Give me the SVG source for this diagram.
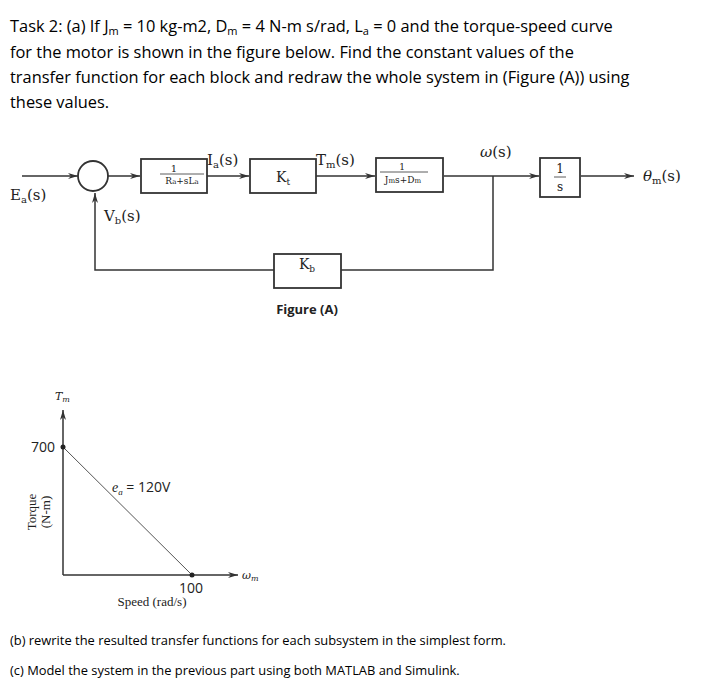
<svg xmlns="http://www.w3.org/2000/svg" width="705" height="695" viewBox="0 0 705 695">
<style>
.t{font-family:"Open Sans","DejaVu Sans",sans-serif;font-size:16.4px;fill:#000}
.m{font-family:"DejaVu Serif","Liberation Serif",serif;fill:#222}
.b{fill:none;stroke:#333;stroke-width:1.8}
.l{fill:none;stroke:#333;stroke-width:1.5}
</style>
<defs><marker id="a" markerWidth="10" markerHeight="6" refX="10" refY="3" orient="auto" markerUnits="userSpaceOnUse"><path d="M0,0 L10,3 L0,6 L3,3z" fill="#333"/></marker></defs>
<rect width="705" height="695" fill="#fff"/>
<text class="t" x="10" y="32">Task 2: (a) If J<tspan font-size="11" dy="3">m</tspan><tspan dy="-3"> = 10 kg-m2, D</tspan><tspan font-size="11" dy="3">m</tspan><tspan dy="-3"> = 4 N-m s/rad, L</tspan><tspan font-size="11" dy="3">a</tspan><tspan dy="-3"> = 0 and the torque-speed curve</tspan></text>
<text class="t" x="10" y="58">for the motor is shown in the figure below. Find the constant values of the</text>
<text class="t" x="10" y="83">transfer function for each block and redraw the whole system in (Figure (A)) using</text>
<text class="t" x="10" y="108">these values.</text>
<g id="connectors">
<line class="l" x1="22" y1="176" x2="78" y2="176" marker-end="url(#a)"/>
<line class="l" x1="108" y1="176" x2="140" y2="176" marker-end="url(#a)"/>
<line class="l" x1="207" y1="176" x2="249" y2="176" marker-end="url(#a)"/>
<line class="l" x1="316" y1="176" x2="375" y2="176" marker-end="url(#a)"/>
<line class="l" x1="444" y1="176" x2="539" y2="176" marker-end="url(#a)"/>
<line class="l" x1="581" y1="176" x2="634" y2="176" marker-end="url(#a)"/>
<polyline class="l" points="493,176 493,270 341,270"/>
<polyline class="l" points="274,270 95,270 95,193" marker-end="url(#a)"/>
</g>
<g id="sum"><circle class="b" cx="93" cy="176" r="15"/></g>
<g id="ea"><text class="m" x="10" y="200" font-size="15">E<tspan font-size="10" dy="3">a</tspan><tspan dy="-3">(s)</tspan></text></g>
<g id="vb"><text class="m" x="104" y="221" font-size="15">V<tspan font-size="10" dy="3">b</tspan><tspan dy="-3">(s)</tspan></text></g>
<g id="b1"><rect class="b" x="141" y="159" width="66" height="34" fill="#fff"/>
<text class="m" x="174" y="172" font-size="10" text-anchor="middle">1</text>
<line x1="160" y1="174" x2="204" y2="174" stroke="#333" stroke-width="0.8"/>
<text class="m" x="182" y="184" font-size="9" text-anchor="middle">R<tspan font-size="7">a</tspan>+sL<tspan font-size="7">a</tspan></text></g>
<g id="ia"><text class="m" x="207" y="165" font-size="15">I<tspan font-size="10" dy="3">a</tspan><tspan dy="-3">(s)</tspan></text></g>
<g id="kt"><rect class="b" x="250" y="159" width="66" height="34" fill="#fff"/>
<text class="m" x="283" y="182" font-size="14" text-anchor="middle">K<tspan font-size="9" dy="3">t</tspan></text></g>
<g id="tm"><text class="m" x="316" y="165" font-size="15">T<tspan font-size="10" dy="3">m</tspan><tspan dy="-3">(s)</tspan></text></g>
<g id="b3"><rect class="b" x="376" y="158" width="67" height="34" fill="#fff"/>
<text class="m" x="402" y="170" font-size="9" text-anchor="middle">1</text>
<line x1="380" y1="172" x2="428" y2="172" stroke="#333" stroke-width="0.8"/>
<text class="m" x="403" y="183" font-size="9" text-anchor="middle">J<tspan font-size="7">m</tspan>s+D<tspan font-size="7">m</tspan></text></g>
<g id="w"><text class="m" x="480" y="157" font-size="15" font-style="italic">ω<tspan font-style="normal">(s)</tspan></text></g>
<g id="int"><rect class="b" x="540" y="158" width="40" height="39" fill="#fff"/>
<text class="m" x="560" y="173" font-size="12" text-anchor="middle">1</text>
<line x1="554" y1="177" x2="566" y2="177" stroke="#333" stroke-width="0.8"/>
<text class="m" x="560" y="191" font-size="12" text-anchor="middle">s</text></g>
<g id="th"><text class="m" x="643" y="181" font-size="15"><tspan font-style="italic">θ</tspan><tspan font-size="10" dy="3">m</tspan><tspan dy="-3">(s)</tspan></text></g>
<g id="kb"><rect class="b" x="274" y="254" width="67" height="34" fill="#fff"/>
<text class="m" x="307" y="269" font-size="14" text-anchor="middle">K<tspan font-size="9" dy="3">b</tspan></text></g>
<text x="307" y="314" font-family="Open Sans,sans-serif" font-size="13" font-weight="bold" text-anchor="middle" fill="#222">Figure (A)</text>
<g id="graph">
<line class="l" x1="63" y1="575" x2="63" y2="410" marker-end="url(#a)"/>
<line class="l" x1="63" y1="575" x2="238" y2="575" marker-end="url(#a)"/>
<line x1="63" y1="447" x2="192" y2="575" stroke="#555" stroke-width="1"/>
<circle cx="63" cy="447" r="2.5" fill="#222"/><circle cx="192" cy="575" r="2.5" fill="#222"/>
<text class="m" x="55" y="400" font-size="11" font-style="italic">T<tspan font-size="8" dy="2">m</tspan></text>
<text x="31" y="452" font-family="Open Sans,sans-serif" font-size="14" fill="#222">700</text>
<text x="179" y="593" font-family="Open Sans,sans-serif" font-size="14" fill="#222">100</text>
<text x="112" y="492" font-family="Open Sans,sans-serif" font-size="14" fill="#222"><tspan font-family="Liberation Serif,serif" font-style="italic">e</tspan><tspan font-family="Liberation Serif,serif" font-style="italic" font-size="9" dy="3">a</tspan><tspan dy="-3"> = 120V</tspan></text>
<text class="m" x="242" y="579" font-size="11" font-style="italic">ω<tspan font-size="8" dy="2">m</tspan></text>
<text x="152" y="606" font-family="Liberation Serif,serif" font-size="13" fill="#222" text-anchor="middle">Speed (rad/s)</text>
<text transform="translate(36,512) rotate(-90)" font-family="Liberation Serif,serif" font-size="13" fill="#222" text-anchor="middle">Torque</text>
<text transform="translate(50,512) rotate(-90)" font-family="Liberation Serif,serif" font-size="13" fill="#222" text-anchor="middle">(N-m)</text>
</g>
<text x="10" y="645" font-family="Open Sans,sans-serif" font-size="12.9" fill="#000">(b) rewrite the resulted transfer functions for each subsystem in the simplest form.</text>
<text x="10" y="675" font-family="Open Sans,sans-serif" font-size="12.9" fill="#000">(c) Model the system in the previous part using both MATLAB and Simulink.</text>
</svg>
